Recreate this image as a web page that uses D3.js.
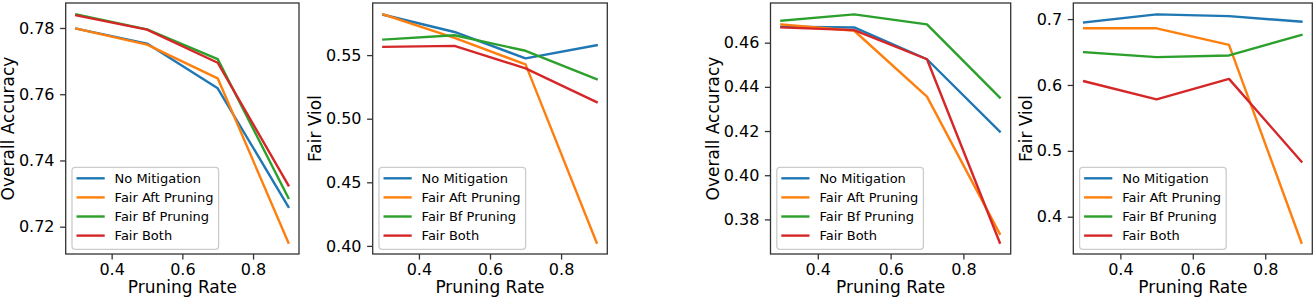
<!DOCTYPE html>
<html>
<head>
<meta charset="utf-8">
<script src="https://cdn.jsdelivr.net/npm/d3@7"></script>
<style>
  body { margin: 0; background: #fff; }
  svg { display: block; font-family: "DejaVu Sans", sans-serif; }
</style>
</head>
<body>
<svg id="chart" width="1314" height="300"></svg>
<script>
// x values shared by every panel
const pruningRates = [0.3, 0.5, 0.7, 0.9];
const xTicks = [0.4, 0.6, 0.8];

const seriesNames = ['No Mitigation', 'Fair Aft Pruning', 'Fair Bf Pruning', 'Fair Both'];
const seriesColors = ['#1f77b4', '#ff7f0e', '#2ca02c', '#d62728'];

// panel 1: accuracy (first dataset)
const accuracyA = [
  [0.7798, 0.7753, 0.7618, 0.7260],
  [0.7798, 0.7750, 0.7648, 0.7152],
  [0.7841, 0.7796, 0.7706, 0.7287],
  [0.7838, 0.7795, 0.7695, 0.7325]
];
const accTicksA = [0.72, 0.74, 0.76, 0.78];

// panel 2: fairness violation (first dataset)
const violA = [
  [0.5817, 0.5682, 0.5474, 0.5578],
  [0.5820, 0.5635, 0.5427, 0.4026],
  [0.5622, 0.5656, 0.5534, 0.5310],
  [0.5565, 0.5573, 0.5396, 0.5131]
];
const violTicksA = [0.40, 0.45, 0.50, 0.55];

// panel 3: accuracy (second dataset)
const accuracyB = [
  [0.4672, 0.4669, 0.4525, 0.4198],
  [0.4683, 0.4654, 0.4356, 0.3735],
  [0.4699, 0.4728, 0.4683, 0.4352],
  [0.4669, 0.4657, 0.4525, 0.3695]
];
const accTicksB = [0.38, 0.40, 0.42, 0.44, 0.46];

// panel 4: fairness violation (second dataset)
const violB = [
  [0.6950, 0.7071, 0.7045, 0.6960],
  [0.6860, 0.6860, 0.6608, 0.3607],
  [0.6498, 0.6423, 0.6448, 0.6759],
  [0.6056, 0.5780, 0.6092, 0.4836]
];
const violTicksB = [0.4, 0.5, 0.6, 0.7];

// layout
const plotTop = 3, plotBottom = 254;
const panels = [
  { left: 65.7, right: 299, values: accuracyA, ticks: accTicksA, fmt: '.2f', label: 'Overall Accuracy' },
  { left: 372.7, right: 607.3, values: violA, ticks: violTicksA, fmt: '.2f', label: 'Fair Viol' },
  { left: 770.5, right: 1010.7, values: accuracyB, ticks: accTicksB, fmt: '.2f', label: 'Overall Accuracy' },
  { left: 1073.3, right: 1312.3, values: violB, ticks: violTicksB, fmt: '.1f', label: 'Fair Viol' }
];

const svg = d3.select('#chart');
svg.append('rect').attr('width', 1314).attr('height', 300).attr('fill', '#fff');

// matplotlib style 5% margins
const padExtent = ext => {
  const m = (ext[1] - ext[0]) * 0.05;
  return [ext[0] - m, ext[1] + m];
};

panels.forEach(p => {
  const x = d3.scaleLinear()
    .domain(padExtent(d3.extent(pruningRates)))
    .range([p.left, p.right]);
  const y = d3.scaleLinear()
    .domain(padExtent(d3.extent(p.values.flat())))
    .range([plotBottom, plotTop]);

  const g = svg.append('g');

  // axes
  const xAxisGroup = g.append('g')
    .attr('transform', `translate(0, ${plotBottom})`)
    .call(d3.axisBottom(x).tickValues(xTicks).tickFormat(d3.format('.1f'))
      .tickSize(5.6).tickPadding(4).tickSizeOuter(0));
  const yAxisGroup = g.append('g')
    .attr('transform', `translate(${p.left}, 0)`)
    .call(d3.axisLeft(y).tickValues(p.ticks).tickFormat(d3.format(p.fmt))
      .tickSize(5.6).tickPadding(5.6).tickSizeOuter(0));

  [xAxisGroup, yAxisGroup].forEach(ax => {
    ax.select('.domain').remove();
    ax.selectAll('line').attr('stroke', '#333').attr('stroke-width', 1.3);
    ax.selectAll('text').attr('fill', '#000').attr('font-size', 16)
      .attr('font-family', '"DejaVu Sans", sans-serif');
  });

  // lines
  const line = d3.line()
    .x((d, i) => x(pruningRates[i]))
    .y(d => y(d));

  g.selectAll('path.series')
    .data(p.values)
    .enter()
    .append('path')
    .attr('class', 'series')
    .attr('d', line)
    .attr('fill', 'none')
    .attr('stroke', (d, i) => seriesColors[i])
    .attr('stroke-width', 2.4)
    .attr('stroke-linejoin', 'round')
    .attr('stroke-linecap', 'square');

  // frame
  g.append('rect')
    .attr('x', p.left).attr('y', plotTop)
    .attr('width', p.right - p.left).attr('height', plotBottom - plotTop)
    .attr('fill', 'none').attr('stroke', '#333').attr('stroke-width', 1.3);

  // axis labels
  g.append('text')
    .attr('x', (p.left + p.right) / 2)
    .attr('y', 293)
    .attr('text-anchor', 'middle')
    .attr('font-size', 17)
    .text('Pruning Rate');

  // y label sits just left of the tick labels
  const tb = yAxisGroup.node().getBBox();
  const lx = p.left + tb.x - 4.8;
  g.append('text')
    .attr('transform', `translate(${lx}, ${(plotTop + plotBottom) / 2}) rotate(-90)`)
    .attr('text-anchor', 'middle')
    .attr('font-size', 17)
    .text(p.label);

  // legend
  const legend = g.append('g')
    .attr('transform', `translate(${p.left + 6.3}, ${plotBottom - 86.7})`);
  legend.append('rect')
    .attr('width', 146.6).attr('height', 82).attr('rx', 3)
    .attr('fill', '#fff').attr('fill-opacity', 0.8)
    .attr('stroke', '#ccc').attr('stroke-width', 1.3);
  const rows = legend.selectAll('g.row')
    .data(seriesNames)
    .enter()
    .append('g')
    .attr('class', 'row')
    .attr('transform', (d, i) => `translate(0, ${11 + i * 19.1})`);
  rows.append('line')
    .attr('x1', 4.5).attr('x2', 32.7)
    .attr('stroke', (d, i) => seriesColors[i])
    .attr('stroke-width', 2.4);
  rows.append('text')
    .attr('x', 42.6).attr('y', 4.6)
    .attr('font-size', 13)
    .text(d => d);
});
</script>
</body>
</html>
